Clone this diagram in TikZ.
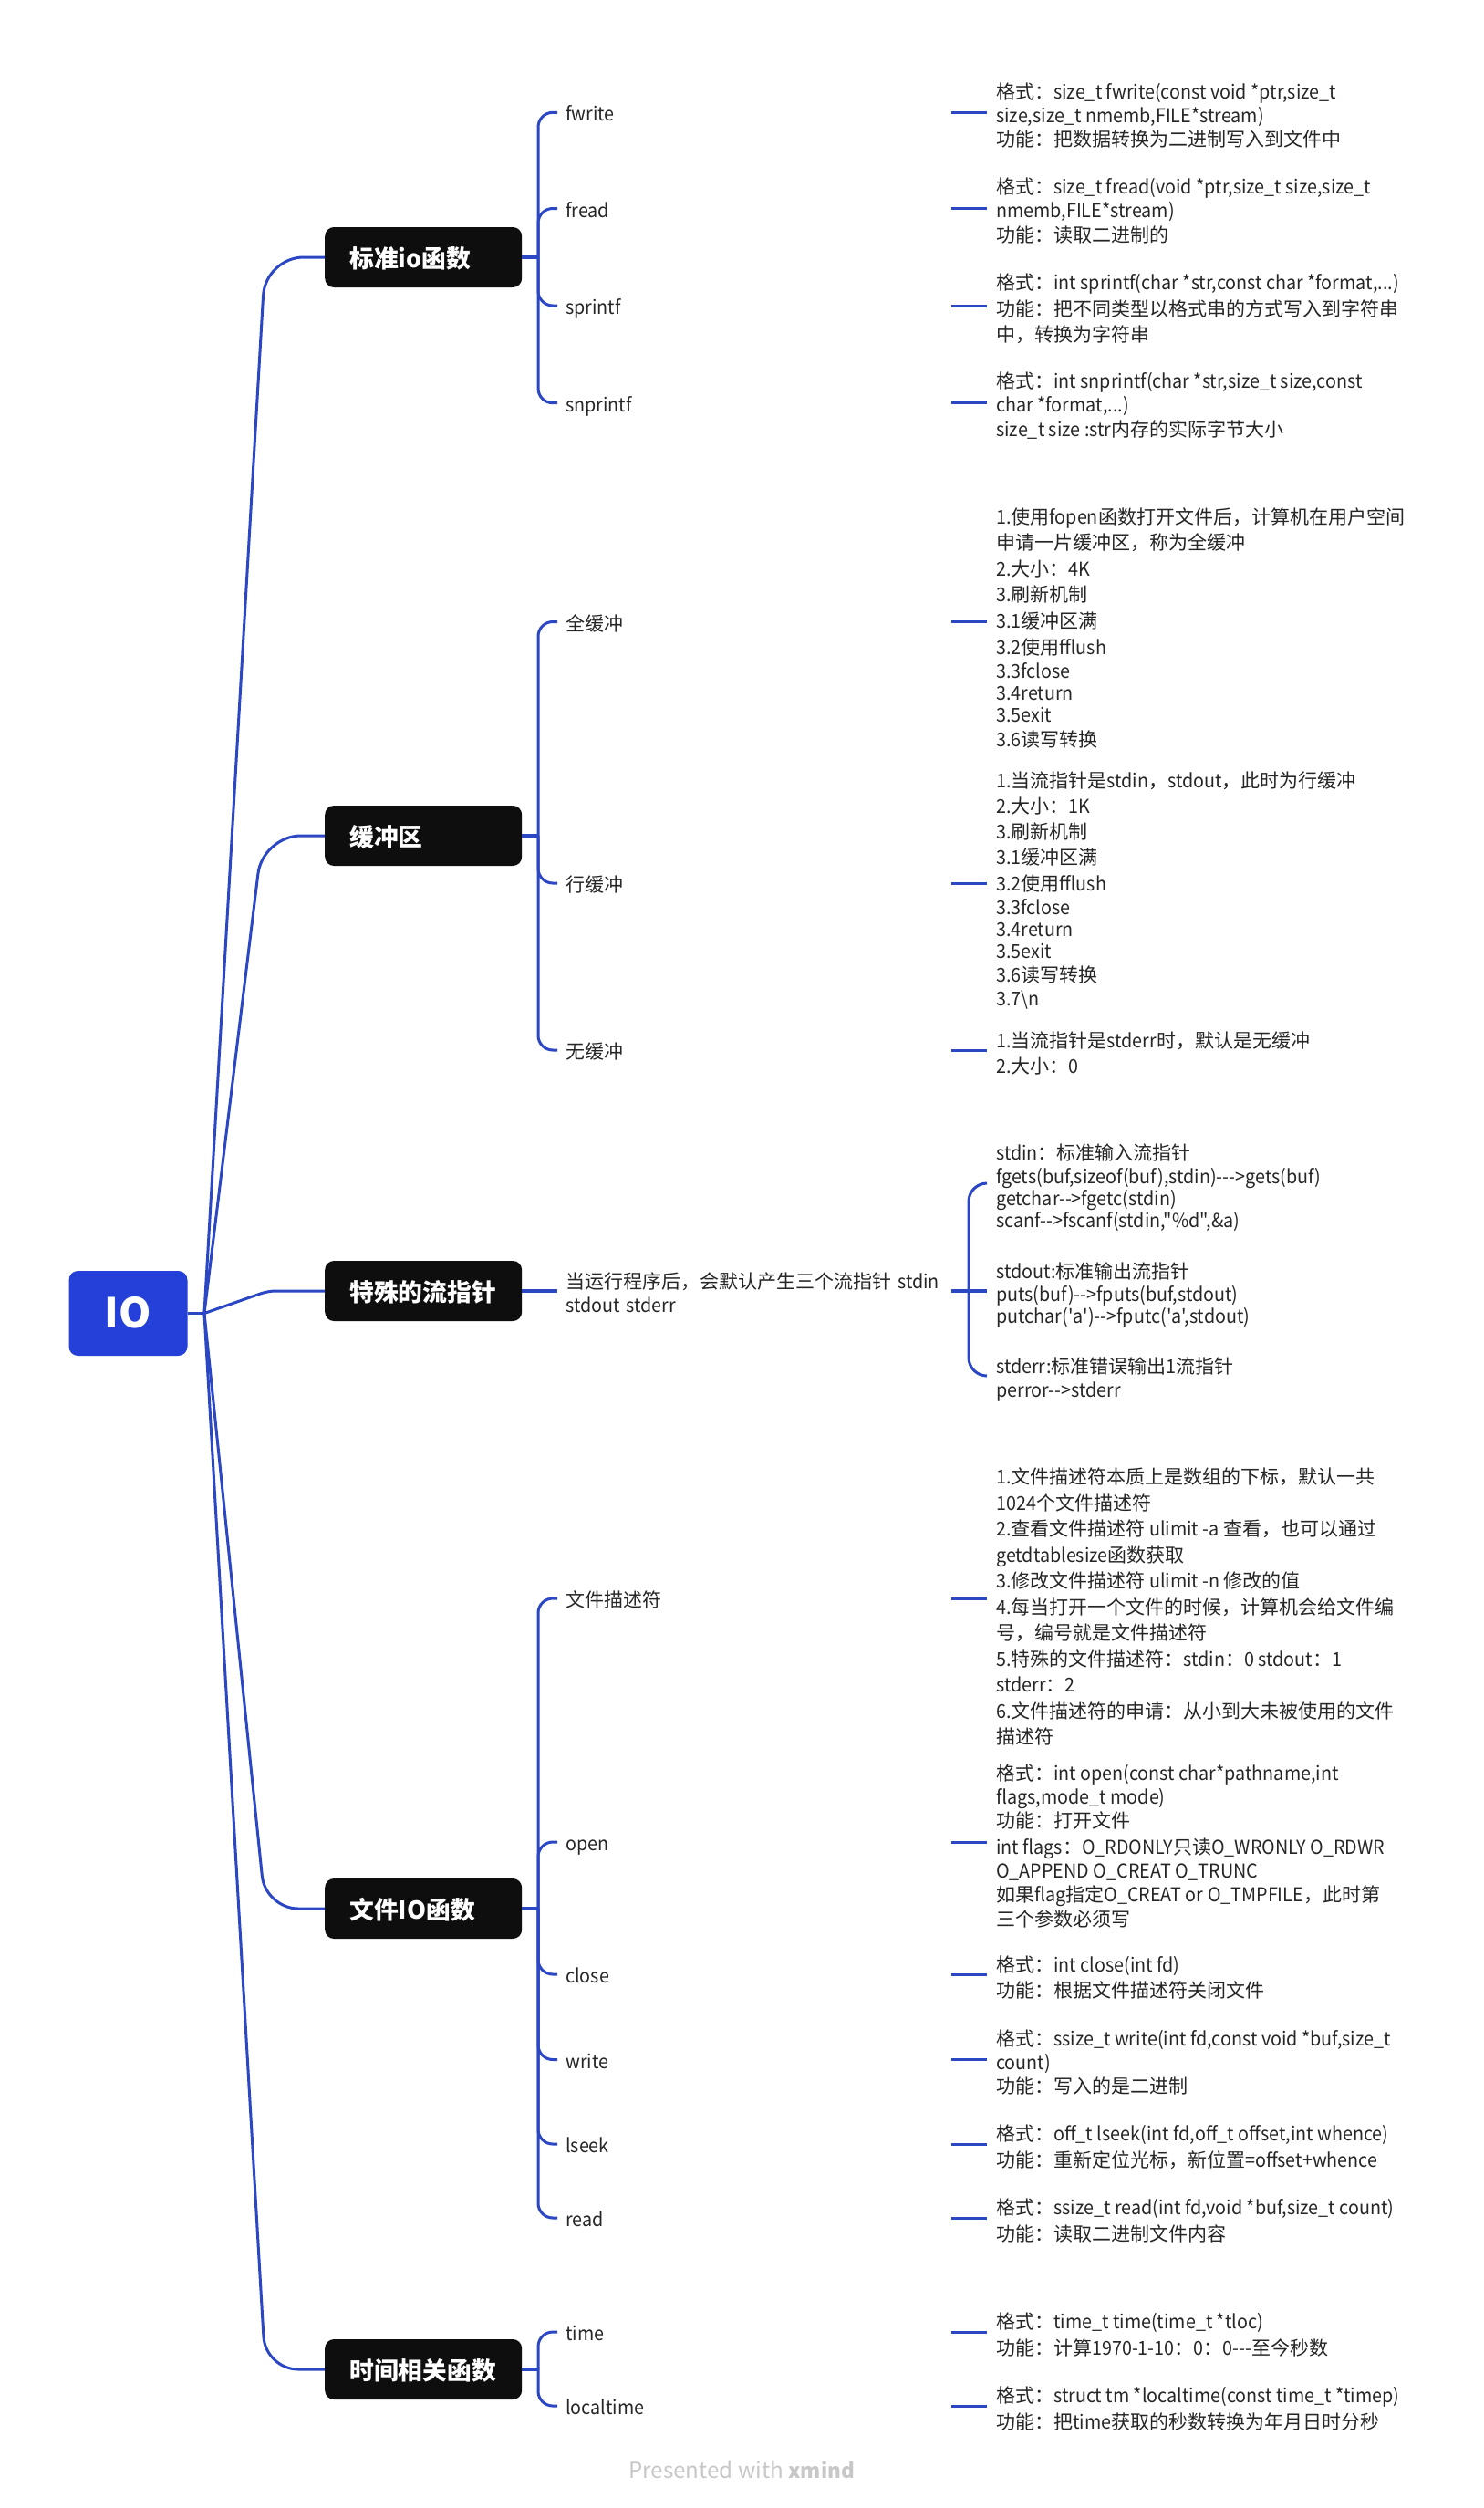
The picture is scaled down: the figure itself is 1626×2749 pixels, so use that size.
\documentclass[tikz,border=0pt]{standalone}
\usepackage{fontspec}
\newfontfamily\cjk{Noto Sans CJK SC}
\newfontfamily\cjknarrow{Noto Sans CJK SC}[FakeStretch=0.94]
% Latin runs a little narrower than the ideographs
\newXeTeXintercharclass\ideoclass
\newcount\ideocode
\ideocode="3000
\loop\XeTeXcharclass\ideocode=\ideoclass\ifnum\ideocode<"9FFF\advance\ideocode by 1\repeat
\ideocode="FF00
\loop\XeTeXcharclass\ideocode=\ideoclass\ifnum\ideocode<"FFEF\advance\ideocode by 1\repeat
\XeTeXinterchartoks 0 \ideoclass={\cjk}
\XeTeXinterchartoks 4095 \ideoclass={\cjk}
\XeTeXinterchartoks \ideoclass 0={\cjknarrow}
\XeTeXinterchartoks \ideoclass 4095={\cjknarrow}
\newcommand\bodyfont{\cjknarrow\fontsize{21}{26.3}\selectfont\XeTeXinterchartokenstate=1\relax}
\definecolor{linkblue}{HTML}{2B47C4}
\definecolor{rootblue}{HTML}{2440D8}
\definecolor{hubblack}{HTML}{0E0E0E}
\definecolor{bodyink}{HTML}{262626}
\tikzset{
  rootnode/.style={rectangle, rounded corners=10pt, fill=rootblue, text=white,
    minimum width=130pt, minimum height=93pt, inner sep=0pt, text height=33pt, text depth=2pt,
    font=\cjk\bfseries\fontsize{45}{50}\selectfont},
  hubnode/.style={rectangle, rounded corners=10pt, fill=hubblack, text=white, anchor=west,
    minimum height=66pt, text width=162pt, inner xsep=27pt, inner ysep=0pt, align=left,
    text height=26pt, text depth=3.6pt,
    font=\cjk\bfseries\fontsize{26.8}{32}\selectfont},
  notenode/.style={anchor=west, text width=414pt, inner xsep=9pt, inner ysep=0pt, align=left,
    text=bodyink, font=\bodyfont},
  leafnode/.style={notenode, text height=20pt, text depth=1pt},
  descnode/.style={anchor=west, inner xsep=10pt, inner ysep=0pt, align=left,
    text=bodyink, font=\bodyfont},
  linkline/.style={draw=linkblue, line width=3pt},
  stemline/.style={draw=linkblue, line width=3.6pt},
}
\begin{document}
\begin{tikzpicture}[x=1pt, y=-1pt]
  \useasboundingbox (0,0) rectangle (1626,2749);

  % Root and main topics
  \node[rootnode] (io) at (140.5,1439.5) {IO};
  \node[hubnode] (stdio) at (356,282) {标准io函数};
  \node[hubnode] (buffer) at (356,916) {缓冲区};
  \node[hubnode] (special) at (356,1415) {特殊的流指针};
  \node[hubnode] (fileio) at (356,2092) {文件IO函数};
  \node[hubnode] (timefn) at (356,2597) {时间相关函数};

  % Links out of the root
  \coordinate (iojoin) at (224,1439.5);
  \draw[stemline] (io.east) -- (iojoin);
  \draw[linkline, rounded corners=42pt] (iojoin) -- (291,282) -- (stdio.west);
  \draw[linkline, rounded corners=42pt] (iojoin) -- (288,916) -- (buffer.west);
  \draw[linkline, rounded corners=8pt] (iojoin) -- (294,1415) -- (special.west);
  \draw[linkline, rounded corners=36pt] (iojoin) -- (291,2092) -- (fileio.west);
  \draw[linkline, rounded corners=36pt] (iojoin) -- (291,2597) -- (timefn.west);

  % Subtopics
  \node[leafnode] (fwrite) at (611,123.3) {fwrite};
  \node[leafnode] (fread) at (611,228.5) {fread};
  \node[leafnode] (sprintf) at (611,335) {sprintf};
  \node[leafnode] (snprintf) at (611,441.7) {snprintf};
  \node[leafnode] (fullbuf) at (611,681.5) {全缓冲};
  \node[leafnode] (linebuf) at (611,968) {行缓冲};
  \node[leafnode] (nobuf) at (611,1151) {无缓冲};
  \node[notenode] (specialnote) at (611,1416.5) {当运行程序后，会默认产生三个流指针 stdin\\stdout stderr};
  \node[leafnode] (filedesc) at (611,1752) {文件描述符};
  \node[leafnode] (open) at (611,2019) {open};
  \node[leafnode] (close) at (611,2164) {close};
  \node[leafnode] (write) at (611,2257.5) {write};
  \node[leafnode] (lseek) at (611,2350) {lseek};
  \node[leafnode] (read) at (611,2431) {read};
  \node[leafnode] (time) at (611,2556) {time};
  \node[leafnode] (localtime) at (611,2637) {localtime};

  % Details
  \node[descnode] (fwrite-desc) at (1082,126.5) {格式：size\_t fwrite(const void *ptr,size\_t\\size,size\_t nmemb,FILE*stream)\\功能：把数据转换为二进制写入到文件中};
  \node[descnode] (fread-desc) at (1082,231) {格式：size\_t fread(void *ptr,size\_t size,size\_t\\nmemb,FILE*stream)\\功能：读取二进制的};
  \node[descnode] (sprintf-desc) at (1082,338.3) {格式：int sprintf(char *str,const char *format,...)\\[2pt]功能：把不同类型以格式串的方式写入到字符串\\[2pt]中，转换为字符串};
  \node[descnode] (snprintf-desc) at (1082,444.5) {格式：int snprintf(char *str,size\_t size,const\\char *format,...)\\size\_t size :str内存的实际字节大小};
  \node[descnode] (fullbuf-desc) at (1082,688.5) {1.使用fopen函数打开文件后，计算机在用户空间\\[2.3pt]申请一片缓冲区，称为全缓冲\\[2.3pt]2.大小：4K\\[2pt]3.刷新机制\\[2.7pt]3.1缓冲区满\\[2pt]3.2使用fflush\\3.3fclose\\[-2.3pt]3.4return\\[-2.3pt]3.5exit\\[1pt]3.6读写转换};
  \node[descnode] (linebuf-desc) at (1082,976) {1.当流指针是stdin，stdout，此时为行缓冲\\[1.7pt]2.大小：1K\\[1.7pt]3.刷新机制\\[1.7pt]3.1缓冲区满\\[2.7pt]3.2使用fflush\\[-.6pt]3.3fclose\\[-2.3pt]3.4return\\[-2.3pt]3.5exit\\3.6读写转换\\3.7\textbackslash n};
  \node[descnode] (nobuf-desc) at (1082,1154.5) {1.当流指针是stderr时，默认是无缓冲\\[1pt]2.大小：0};
  \node[descnode] (filedesc-desc) at (1082,1761) {1.文件描述符本质上是数组的下标，默认一共\\[2.2pt]1024个文件描述符\\[2.2pt]2.查看文件描述符 ulimit -a 查看，也可以通过\\[2.2pt]getdtablesize函数获取\\[2.2pt]3.修改文件描述符 ulimit -n 修改的值\\[2.2pt]4.每当打开一个文件的时候，计算机会给文件编\\[2.2pt]号，编号就是文件描述符\\[2.2pt]5.特殊的文件描述符：stdin：0 stdout：1\\[2.2pt]stderr：2\\[2.2pt]6.文件描述符的申请：从小到大未被使用的文件\\[2.2pt]描述符};
  \node[descnode] (open-desc) at (1082,2023.6) {格式：int open(const char*pathname,int\\flags,mode\_t mode)\\功能：打开文件\\[2pt]int flags：O\_RDONLY只读O\_WRONLY O\_RDWR\\O\_APPEND O\_CREAT O\_TRUNC\\如果flag指定O\_CREAT or O\_TMPFILE，此时第\\[1pt]三个参数必须写};
  \node[descnode] (close-desc) at (1082,2167.5) {格式：int close(int fd)\\[2.3pt]功能：根据文件描述符关闭文件};
  \node[descnode] (write-desc) at (1082,2260.6) {格式：ssize\_t write(int fd,const void *buf,size\_t\\count)\\功能：写入的是二进制};
  \node[descnode] (lseek-desc) at (1082,2353.5) {格式：off\_t lseek(int fd,off\_t offset,int whence)\\[2.7pt]功能：重新定位光标，新位置=offset+whence};
  \node[descnode] (read-desc) at (1082,2434.3) {格式：ssize\_t read(int fd,void *buf,size\_t count)\\[2.3pt]功能：读取二进制文件内容};
  \node[descnode] (time-desc) at (1082,2559) {格式：time\_t time(time\_t *tloc)\\[2pt]功能：计算1970-1-10：0：0---至今秒数};
  \node[descnode] (localtime-desc) at (1082,2640) {格式：struct tm *localtime(const time\_t *timep)\\[2pt]功能：把time获取的秒数转换为年月日时分秒};

  % Fan under the special stream note
  \node[descnode] (stdin-desc) at (1082,1302) {stdin：标准输入流指针\\[-1pt]fgets(buf,sizeof(buf),stdin)--->gets(buf)\\[-2pt]getchar-->fgetc(stdin)\\[-2pt]scanf-->fscanf(stdin,"\%d",\&a)};
  \node[descnode] (stdout-desc) at (1082,1419.5) {stdout:标准输出流指针\\[-1pt]puts(buf)-->fputs(buf,stdout)\\[-2pt]putchar('a')-->fputc('a',stdout)};
  \node[descnode] (stderr-desc) at (1082,1512) {stderr:标准错误输出1流指针\\[-1pt]perror-->stderr};
  \coordinate (specialjoin) at (1062,1414.7);
  \coordinate (stdinport) at (1082,1297);
  \coordinate (stdoutport) at (1082,1414.7);
  \coordinate (stderrport) at (1082,1508);
  \draw[stemline] (special.east) -- (special.east -| specialnote.west);
  \draw[stemline] (specialnote.east |- specialjoin) -- (stdoutport);
  \draw[linkline, rounded corners=20pt] (specialjoin) |- (stdinport);
  \draw[linkline, rounded corners=20pt] (specialjoin) |- (stderrport);

  % Stems and elbows of the main topics
  \coordinate (stdiojoin) at (590,282);
  \coordinate (bufferjoin) at (590,916);
  \coordinate (fileiojoin) at (590,2092);
  \coordinate (timejoin) at (590,2597);
  \draw[stemline] (stdio.east) -- (stdiojoin);
  \draw[stemline] (buffer.east) -- (bufferjoin);
  \draw[stemline] (fileio.east) -- (fileiojoin);
  \draw[stemline] (timefn.east) -- (timejoin);
  \foreach \leaf in {fwrite,fread,sprintf,snprintf}
    \draw[linkline, rounded corners=16pt] (stdiojoin) |- (\leaf.west);
  \foreach \leaf in {fullbuf,linebuf,nobuf}
    \draw[linkline, rounded corners=16pt] (bufferjoin) |- (\leaf.west);
  \foreach \leaf in {filedesc,open,close,write,lseek,read}
    \draw[linkline, rounded corners=16pt] (fileiojoin) |- (\leaf.west);
  \foreach \leaf in {time,localtime}
    \draw[linkline, rounded corners=16pt] (timejoin) |- (\leaf.west);

  % Stubs in front of the details
  \foreach \leaf in {fwrite,fread,sprintf,snprintf,fullbuf,linebuf,nobuf,filedesc,open,close,write,lseek,read,time,localtime}
    \draw[linkline] (\leaf.east) -- (\leaf.east -| \leaf-desc.west);

  % Watermark
  \node[anchor=west, inner sep=0pt, text=black!22, font=\cjk\fontsize{24.2}{30}\selectfont] (mark) at (689,2707) {Presented with \textbf{\fontsize{22.5}{30}\selectfont xmind}};
\end{tikzpicture}
\end{document}
